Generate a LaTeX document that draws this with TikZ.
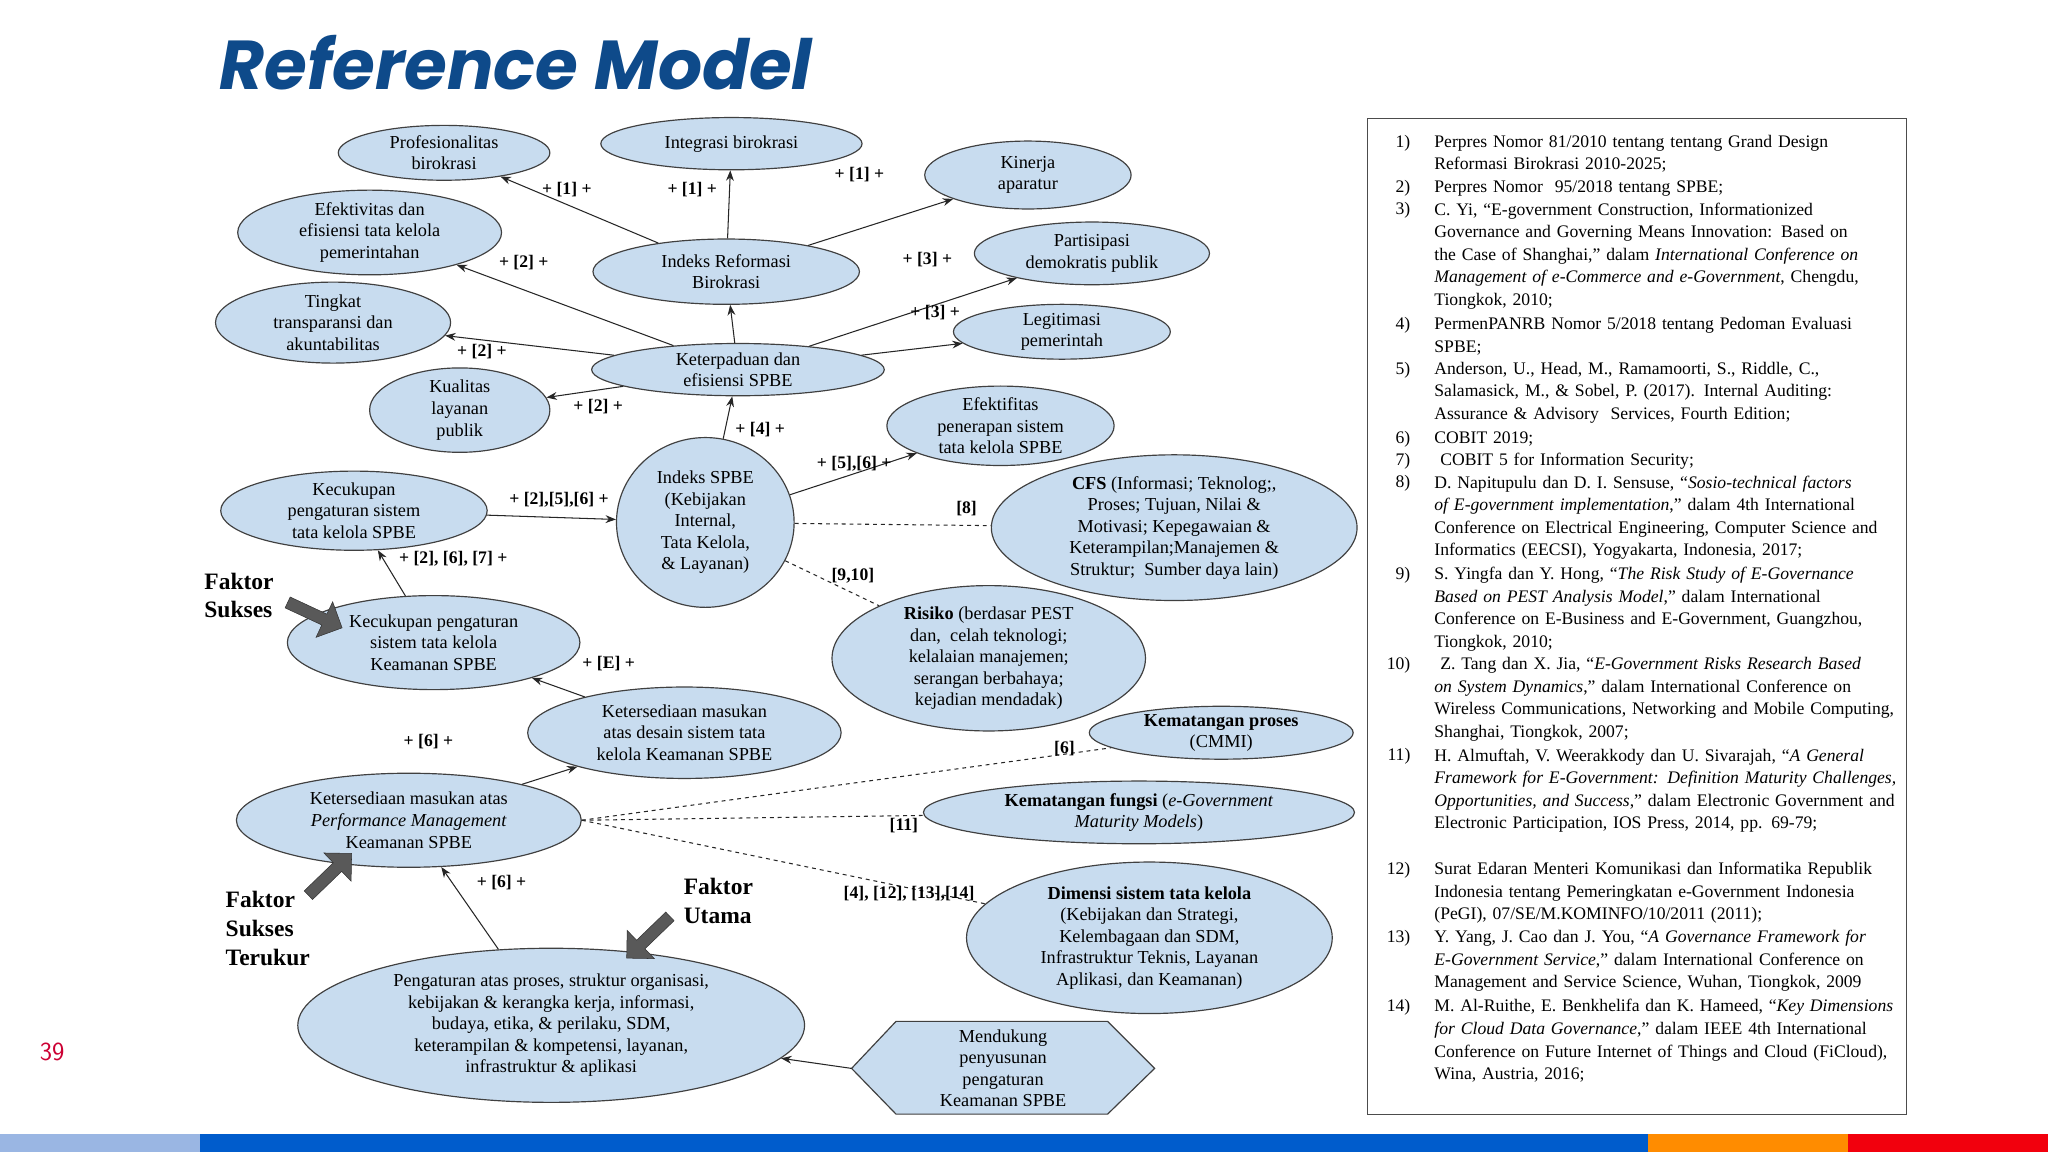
\documentclass[tikz,border=0pt]{standalone}
\usepackage{fontspec}
\setmainfont{Liberation Serif}
\newfontfamily\titlefont{Poppins}
\usetikzlibrary{shapes.geometric,shapes.arrows,arrows.meta}
\definecolor{ellfill}{HTML}{C8DCEF}
\definecolor{titleblue}{HTML}{0E4A8A}
\hyphenpenalty=10000
\exhyphenpenalty=10000
\begin{document}
\begin{tikzpicture}[x=1pt,y=-1pt,
  el/.style={ellipse,draw=black!75,line width=0.9pt,fill=ellfill,inner sep=0pt,align=center,font=\fontsize{14}{16.5}\selectfont},
  arr/.style={-{Stealth[length=8pt,width=6pt]},line width=0.8pt,black!85},
  dsh/.style={dashed,line width=0.8pt,black!85},
  lab/.style={font=\bfseries\fontsize{13.5}{16}\selectfont,inner sep=1pt},
  blk/.style={single arrow,fill=black!65,draw=black!80,minimum height=46pt,minimum width=30pt,single arrow head extend=5pt,inner sep=2pt},
  fak/.style={font=\bfseries\fontsize{18}{22}\selectfont,align=left},
  ref/.style={anchor=north west,text width=354pt,align=left,inner sep=0pt,font=\fontsize{13.5}{17.3}\selectfont},
  num/.style={anchor=north east,inner sep=0pt,font=\fontsize{13.5}{17.3}\selectfont}]
\useasboundingbox (0,0) rectangle (1568,882);
\fill[white] (0,0) rectangle (1568,882);
\node[anchor=west,text=titleblue,font=\titlefont\bfseries\itshape\fontsize{53}{58}\selectfont,inner sep=0] (title) at (168,48) {Reference Model};
\node[text=purple!80!red,font=\sffamily\fontsize{20}{24}\selectfont] (pg) at (40,805) {39};
\fill[cyan!50!blue!40] (0,868) rectangle (153,882);
\fill[blue!55!cyan!80!black] (153,868) rectangle (1262,882);
\fill[orange!90!yellow] (1262,868) rectangle (1415,882);
\fill[red!80!purple] (1415,868) rectangle (1568,882);

% nodes
\node[el,minimum width=162pt,minimum height=42pt] (n1) at (340,117) {Profesionalitas\\birokrasi};
\node[el,minimum width=200pt,minimum height=40pt] (n2) at (560,110) {Integrasi birokrasi};
\node[el,minimum width=158pt,minimum height=52pt] (n3) at (787,134) {Kinerja\\aparatur};
\node[el,minimum width=202pt,minimum height=62pt] (n4) at (283,178) {Efektivitas dan\\efisiensi tata kelola\\pemerintahan};
\node[el,minimum width=204pt,minimum height=50pt] (n5) at (556,208) {Indeks Reformasi\\Birokrasi};
\node[el,minimum width=180pt,minimum height=48pt] (n6) at (836,194) {Partisipasi\\demokratis publik};
\node[el,minimum width=180pt,minimum height=62pt] (n7) at (255,247) {Tingkat\\transparansi dan\\akuntabilitas};
\node[el,minimum width=166pt,minimum height=42pt] (n8) at (813,254) {Legitimasi\\pemerintah};
\node[el,minimum width=224pt,minimum height=40pt] (n9) at (565,283) {Keterpaduan dan\\efisiensi SPBE};
\node[el,minimum width=138pt,minimum height=60pt] (n10) at (352,314) {Kualitas\\layanan\\publik};
\node[el,minimum width=174pt,minimum height=58pt] (n11) at (766,326) {Efektifitas\\penerapan sistem\\tata kelola SPBE};
\node[el,minimum width=136pt,minimum height=130pt] (n12) at (540,400) {Indeks SPBE\\(Kebijakan\\Internal,\\Tata Kelola,\\\& Layanan)};
\node[el,minimum width=204pt,minimum height=60pt] (n13) at (271,391) {Kecukupan\\pengaturan sistem\\tata kelola SPBE};
\node[el,minimum width=280pt,minimum height=110pt] (n14) at (899,404) {\textbf{CFS} (Informasi; Teknolog;,\\Proses; Tujuan, Nilai \&\\Motivasi; Kepegawaian \&\\Keterampilan;Manajemen \&\\Struktur;\ \ Sumber daya lain)};
\node[el,minimum width=224pt,minimum height=72pt] (n15) at (332,492) {Kecukupan pengaturan\\sistem tata kelola\\Keamanan SPBE};
\node[el,minimum width=240pt,minimum height=108pt] (n16) at (757,504) {\textbf{Risiko} (berdasar PEST\\dan,\ \ celah teknologi;\\kelalaian manajemen;\\serangan berbahaya;\\kejadian mendadak)};
\node[el,minimum width=240pt,minimum height=70pt] (n17) at (524,561) {Ketersediaan masukan\\atas desain sistem tata\\kelola Keamanan SPBE};
\node[el,minimum width=202pt,minimum height=40pt] (n18) at (935,561) {\textbf{Kematangan proses}\\(CMMI)};
\node[el,minimum width=264pt,minimum height=72pt] (n19) at (313,628) {Ketersediaan masukan atas\\\textit{Performance Management}\\Keamanan SPBE};
\node[el,minimum width=330pt,minimum height=48pt] (n20) at (872,622) {\textbf{Kematangan fungsi} (\textit{e-Government}\\\textit{Maturity Models})};
\node[el,minimum width=280pt,minimum height=116pt] (n21) at (880,718) {\textbf{Dimensi sistem tata kelola}\\(Kebijakan dan Strategi,\\Kelembagaan dan SDM,\\Infrastruktur Teknis, Layanan\\Aplikasi, dan Keamanan)};
\node[el,minimum width=388pt,minimum height=118pt] (n22) at (422,785) {Pengaturan atas proses, struktur organisasi,\\kebijakan \& kerangka kerja, informasi,\\budaya, etika, \& perilaku, SDM,\\keterampilan \& kompetensi, layanan,\\infrastruktur \& aplikasi};
\draw[draw=black!75,line width=0.9pt,fill=ellfill] (652,818)--(686,782)--(848,782)--(884,818)--(848,853)--(686,853)--cycle;
\coordinate (hxl) at (652,818);
\node[align=center,font=\fontsize{14}{16.5}\selectfont] (n23) at (768,818) {Mendukung\\penyusunan\\pengaturan\\Keamanan SPBE};

% connectors
\draw[arr] (n5) -- (n1);
\draw[arr] (n5) -- (n2);
\draw[arr] (n5) -- (n3);
\draw[arr] (n9) -- (n4);
\draw[arr] (n9) -- (n5);
\draw[arr] (n9) -- (n6);
\draw[arr] (n9) -- (n7);
\draw[arr] (n9) -- (n8);
\draw[arr] (n9) -- (n10);
\draw[arr] (n12) -- (n9);
\draw[arr] (n12) -- (n11);
\draw[arr] (n13) -- (n12);
\draw[dsh] (n12) -- (n14);
\draw[dsh] (n12) -- (n16);
\draw[arr] (n15) -- (n13);
\draw[arr] (n17) -- (n15);
\draw[arr] (n19) -- (n17);
\draw[dsh] (n19.east) -- (n18);
\draw[dsh] (n19.east) -- (n20);
\draw[dsh] (n19.east) -- (n21);
\draw[arr] (n22) -- (n19);
\draw[arr] (hxl) -- (n22);

% labels
\node[lab] (l1) at (434,145) {+ [1] +};
\node[lab] (l2) at (530,145) {+ [1] +};
\node[lab] (l3) at (658,134) {+ [1] +};
\node[lab] (l4) at (401,201) {+ [2] +};
\node[lab] (l5) at (710,199) {+ [3] +};
\node[lab] (l6) at (369,269) {+ [2] +};
\node[lab] (l7) at (716,239) {+ [3] +};
\node[lab] (l8) at (458,311) {+ [2] +};
\node[lab] (l9) at (582,329) {+ [4] +};
\node[lab] (l10) at (654,355) {+ [5],[6] +};
\node[lab] (l11) at (428,383) {+ [2],[5],[6] +};
\node[lab] (l12) at (740,389) {[8]};
\node[lab] (l13) at (653,441) {[9,10]};
\node[lab] (l14) at (347,428) {+ [2], [6], [7] +};
\node[lab] (l15) at (466,508) {+ [E] +};
\node[lab] (l16) at (328,568) {+ [6] +};
\node[lab] (l17) at (815,573) {[6]};
\node[lab] (l18) at (692,632) {[11]};
\node[lab] (l19) at (696,684) {[4], [12], [13],[14]};
\node[lab] (l20) at (384,676) {+ [6] +};

% faktor
\node[fak] (f1) at (183,456) {Faktor\\Sukses};
\node[blk,rotate=-25] (b1) at (239,470) {};
\node[fak] (f2) at (205,711) {Faktor\\Sukses\\Terukur};
\node[blk,rotate=44] (b2) at (251,671) {};
\node[fak] (f3) at (550,690) {Faktor\\Utama};
\node[blk,rotate=-136] (b3) at (498,716) {};

% references box
\draw[black!70,line width=0.8pt] (1047,91) rectangle (1460,853);
\foreach \n/\y in {1/103,2/138,3/155,4/243,5/277,6/330,7/347,8/364,9/434,10/503,11/573,12/660,13/712,14/765}
  \node[num] (r\n) at (1080,\y) {\n)};
\node[ref] (t1) at (1098,103) {Perpres Nomor 81/2010 tentang tentang Grand Design Reformasi Birokrasi 2010-2025;};
\node[ref] (t2) at (1098,138) {Perpres Nomor\ \ 95/2018 tentang SPBE;};
\node[ref] (t3) at (1098,155) {C. Yi, ``E-government Construction, Informationized Governance and Governing Means Innovation: Based on the Case of Shanghai,'' dalam \textit{International Conference on Management of e-Commerce and e-Government}, Chengdu, Tiongkok, 2010;};
\node[ref] (t4) at (1098,243) {PermenPANRB Nomor 5/2018 tentang Pedoman Evaluasi SPBE;};
\node[ref] (t5) at (1098,277) {Anderson, U., Head, M., Ramamoorti, S., Riddle, C., Salamasick, M., \& Sobel, P. (2017). Internal Auditing: Assurance \& Advisory\ \ Services, Fourth Edition;};
\node[ref] (t6) at (1098,330) {COBIT 2019;};
\node[ref] (t7) at (1098,347) {\ COBIT 5 for Information Security;};
\node[ref] (t8) at (1098,364) {D. Napitupulu dan D. I. Sensuse, ``\textit{Sosio-technical factors of E-government implementation},'' dalam 4th International Conference on Electrical Engineering, Computer Science and Informatics (EECSI), Yogyakarta, Indonesia, 2017;};
\node[ref] (t9) at (1098,434) {S. Yingfa dan Y. Hong, ``\textit{The Risk Study of E-Governance Based on PEST Analysis Model},'' dalam International Conference on E-Business and E-Government, Guangzhou, Tiongkok, 2010;};
\node[ref] (t10) at (1098,503) {\ Z. Tang dan X. Jia, ``\textit{E-Government Risks Research Based on System Dynamics},'' dalam International Conference on Wireless Communications, Networking and Mobile Computing, Shanghai, Tiongkok, 2007;};
\node[ref] (t11) at (1098,573) {H. Almuftah, V. Weerakkody dan U. Sivarajah, ``\textit{A General Framework for E-Government: Definition Maturity Challenges, Opportunities, and Success},'' dalam Electronic Government and Electronic Participation, IOS Press, 2014, pp. 69-79;};
\node[ref] (t12) at (1098,660) {Surat Edaran Menteri Komunikasi dan Informatika Republik Indonesia tentang Pemeringkatan e-Government Indonesia (PeGI), 07/SE/M.KOMINFO/10/2011 (2011);};
\node[ref] (t13) at (1098,712) {Y. Yang, J. Cao dan J. You, ``\textit{A Governance Framework for E-Government Service},'' dalam International Conference on Management and Service Science, Wuhan, Tiongkok, 2009};
\node[ref] (t14) at (1098,765) {M. Al-Ruithe, E. Benkhelifa dan K. Hameed, ``\textit{Key Dimensions for Cloud Data Governance},'' dalam IEEE 4th International Conference on Future Internet of Things and Cloud (FiCloud), Wina, Austria, 2016;};
\end{tikzpicture}
\end{document}
